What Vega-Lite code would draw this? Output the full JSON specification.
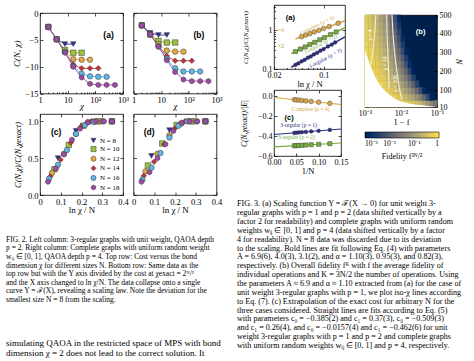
{
"$schema": "https://vega.github.io/schema/vega-lite/v6.json",
"background": "white",
"padding": {"left": 6, "top": 4, "right": 0, "bottom": 0},
"config": {
  "font": "Liberation Serif",
  "view": {"stroke": "#000", "strokeWidth": 0.8},
  "axis": {"domain": false, "grid": false, "tickSize": -3, "tickColor": "#000", "tickWidth": 0.7, "labelPadding": 5, "labelFont": "Liberation Serif", "labelFontSize": 8.5, "labelColor": "#000", "labelFlush": false, "labelOverlap": false, "titleFont": "Liberation Serif", "titleFontSize": 9, "titleFontWeight": "normal", "titleColor": "#000", "titlePadding": 0},
  "text": {"font": "Liberation Serif"}
},
"datasets": {
  "f2": [
    {"N":8,"chi":2,"Ca":-2.6,"Cb":-2.3,"X":0.0866,"Yc":0.50,"Yd":0.53},
    {"N":8,"chi":4,"Ca":-4.9,"Cb":-3.7,"X":0.1733,"Yc":0.87,"Yd":0.88},
    {"N":8,"chi":8,"Ca":-5.8,"Cb":-4.1,"X":0.2599,"Yc":1.0,"Yd":1.0},
    {"N":8,"chi":16,"Ca":-5.8,"Cb":-4.1,"X":0.3466,"Yc":1.0,"Yd":1.0},
    {"N":10,"chi":2,"Ca":-2.6,"Cb":-2.3,"X":0.0693,"Yc":0.35,"Yd":0.40},
    {"N":10,"chi":4,"Ca":-4.9,"Cb":-4.0,"X":0.1386,"Yc":0.68,"Yd":0.70},
    {"N":10,"chi":8,"Ca":-6.9,"Cb":-5.2,"X":0.2079,"Yc":0.94,"Yd":0.95},
    {"N":10,"chi":16,"Ca":-7.4,"Cb":-5.5,"X":0.2773,"Yc":1.0,"Yd":1.0},
    {"N":10,"chi":32,"Ca":-7.4,"Cb":-5.5,"X":0.3466,"Yc":1.0,"Yd":1.0},
    {"N":12,"chi":2,"Ca":-2.6,"Cb":-2.3,"X":0.0578,"Yc":0.30,"Yd":0.32},
    {"N":12,"chi":4,"Ca":-4.9,"Cb":-4.0,"X":0.1155,"Yc":0.56,"Yd":0.56},
    {"N":12,"chi":8,"Ca":-7.2,"Cb":-5.8,"X":0.1733,"Yc":0.83,"Yd":0.81},
    {"N":12,"chi":16,"Ca":-8.6,"Cb":-7.0,"X":0.2310,"Yc":0.99,"Yd":0.97},
    {"N":12,"chi":32,"Ca":-8.7,"Cb":-7.2,"X":0.2888,"Yc":1.0,"Yd":1.0},
    {"N":12,"chi":64,"Ca":-8.7,"Cb":-7.2,"X":0.3466,"Yc":1.0,"Yd":1.0},
    {"N":14,"chi":2,"Ca":-2.6,"Cb":-2.3,"X":0.0495,"Yc":0.25,"Yd":0.26},
    {"N":14,"chi":4,"Ca":-4.9,"Cb":-4.0,"X":0.0990,"Yc":0.48,"Yd":0.45},
    {"N":14,"chi":8,"Ca":-7.3,"Cb":-6.1,"X":0.1485,"Yc":0.71,"Yd":0.69},
    {"N":14,"chi":16,"Ca":-9.6,"Cb":-8.0,"X":0.1980,"Yc":0.93,"Yd":0.90},
    {"N":14,"chi":32,"Ca":-10.3,"Cb":-8.9,"X":0.2476,"Yc":1.0,"Yd":1.0},
    {"N":14,"chi":64,"Ca":-10.3,"Cb":-8.9,"X":0.2971,"Yc":1.0,"Yd":1.0},
    {"N":14,"chi":128,"Ca":-10.3,"Cb":-8.9,"X":0.3466,"Yc":1.0,"Yd":1.0},
    {"N":16,"chi":2,"Ca":-2.6,"Cb":-2.3,"X":0.0433,"Yc":0.22,"Yd":0.21},
    {"N":16,"chi":4,"Ca":-4.9,"Cb":-4.0,"X":0.0866,"Yc":0.41,"Yd":0.37},
    {"N":16,"chi":8,"Ca":-7.3,"Cb":-6.2,"X":0.1300,"Yc":0.61,"Yd":0.57},
    {"N":16,"chi":16,"Ca":-9.9,"Cb":-8.5,"X":0.1733,"Yc":0.83,"Yd":0.78},
    {"N":16,"chi":32,"Ca":-11.3,"Cb":-10.3,"X":0.2166,"Yc":0.95,"Yd":0.94},
    {"N":16,"chi":64,"Ca":-11.8,"Cb":-10.9,"X":0.2599,"Yc":0.99,"Yd":1.0},
    {"N":16,"chi":128,"Ca":-11.9,"Cb":-10.9,"X":0.3033,"Yc":1.0,"Yd":1.0},
    {"N":16,"chi":256,"Ca":-11.9,"Cb":-10.9,"X":0.3466,"Yc":1.0,"Yd":1.0},
    {"N":18,"chi":2,"Ca":-2.6,"Cb":-2.3,"X":0.0385,"Yc":0.18,"Yd":0.18},
    {"N":18,"chi":4,"Ca":-4.9,"Cb":-4.0,"X":0.0770,"Yc":0.36,"Yd":0.31},
    {"N":18,"chi":8,"Ca":-7.4,"Cb":-6.3,"X":0.1155,"Yc":0.55,"Yd":0.50},
    {"N":18,"chi":16,"Ca":-10.0,"Cb":-8.8,"X":0.1540,"Yc":0.75,"Yd":0.69},
    {"N":18,"chi":32,"Ca":-12.0,"Cb":-11.0,"X":0.1925,"Yc":0.90,"Yd":0.87},
    {"N":18,"chi":64,"Ca":-13.2,"Cb":-12.4,"X":0.2310,"Yc":0.985,"Yd":0.98},
    {"N":18,"chi":128,"Ca":-13.4,"Cb":-12.7,"X":0.2695,"Yc":1.0,"Yd":1.0},
    {"N":18,"chi":256,"Ca":-13.4,"Cb":-12.7,"X":0.3081,"Yc":1.0,"Yd":1.0},
    {"N":18,"chi":512,"Ca":-13.4,"Cb":-12.7,"X":0.3466,"Yc":1.0,"Yd":1.0}
  ],
  "f3a": [
    {"s":"p1","X":0.040,"Y":0.128},{"s":"p1","X":0.044,"Y":0.139},{"s":"p1","X":0.049,"Y":0.158},{"s":"p1","X":0.054,"Y":0.172},{"s":"p1","X":0.060,"Y":0.195},{"s":"p1","X":0.066,"Y":0.211},{"s":"p1","X":0.073,"Y":0.238},{"s":"p1","X":0.081,"Y":0.260},{"s":"p1","X":0.090,"Y":0.296},{"s":"p1","X":0.100,"Y":0.324},{"s":"p1","X":0.115,"Y":0.380},{"s":"p1","X":0.130,"Y":0.424},{"s":"p1","X":0.145,"Y":0.480},
    {"s":"p2","X":0.040,"Y":0.280},{"s":"p2","X":0.047,"Y":0.325},{"s":"p2","X":0.055,"Y":0.368},{"s":"p2","X":0.064,"Y":0.426},{"s":"p2","X":0.075,"Y":0.485},{"s":"p2","X":0.088,"Y":0.563},{"s":"p2","X":0.103,"Y":0.640},{"s":"p2","X":0.125,"Y":0.766},{"s":"p2","X":0.150,"Y":0.893},
    {"s":"c4","X":0.049,"Y":0.678},{"s":"c4","X":0.056,"Y":0.745},{"s":"c4","X":0.064,"Y":0.808},{"s":"c4","X":0.074,"Y":0.896},{"s":"c4","X":0.086,"Y":0.985},{"s":"c4","X":0.100,"Y":1.096},{"s":"c4","X":0.120,"Y":1.232},{"s":"c4","X":0.160,"Y":1.50}
  ],
  "f3aFit": [
    {"s":"p1","X":0.035,"Y":0.111},{"s":"p1","X":0.2,"Y":0.667},
    {"s":"p2","X":0.035,"Y":0.249},{"s":"p2","X":0.2,"Y":1.15},
    {"s":"c4","X":0.04,"Y":0.59},{"s":"c4","X":0.2,"Y":1.74}
  ],
  "f3aLab": [
    {"s":"c4","X":0.08,"Y":1.35,"t":"Complete (p = 4)"},
    {"s":"p2","X":0.09,"Y":0.44,"t":"3-regular (p = 2)"},
    {"s":"p1","X":0.105,"Y":0.19,"t":"3-regular (p = 1)"}
  ],
  "f3aShift": [
    {"s":"c4","X":0.025,"Y":1.0,"t":"×4"},
    {"s":"p2","X":0.025,"Y":0.40,"t":"×2"}
  ],
  "f3c": [
    {"s":"c4","X":0.0455,"Y":-0.037},{"s":"c4","X":0.05,"Y":-0.039},{"s":"c4","X":0.0556,"Y":-0.041},{"s":"c4","X":0.0625,"Y":-0.045},{"s":"c4","X":0.0714,"Y":-0.049},{"s":"c4","X":0.0833,"Y":-0.054},{"s":"c4","X":0.1,"Y":-0.062},{"s":"c4","X":0.125,"Y":-0.074},
    {"s":"p1","X":0.0455,"Y":-0.368},{"s":"p1","X":0.05,"Y":-0.367},{"s":"p1","X":0.0556,"Y":-0.364},{"s":"p1","X":0.0625,"Y":-0.362},{"s":"p1","X":0.0714,"Y":-0.359},{"s":"p1","X":0.0833,"Y":-0.354},{"s":"p1","X":0.1,"Y":-0.348},{"s":"p1","X":0.125,"Y":-0.339},
    {"s":"p2","X":0.0455,"Y":-0.497},{"s":"p2","X":0.05,"Y":-0.496},{"s":"p2","X":0.0556,"Y":-0.495},{"s":"p2","X":0.0625,"Y":-0.493},{"s":"p2","X":0.0714,"Y":-0.490},{"s":"p2","X":0.0833,"Y":-0.487},{"s":"p2","X":0.1,"Y":-0.483},{"s":"p2","X":0.125,"Y":-0.477}
  ],
  "f3cFit": [
    {"s":"c4","X":0,"Y":-0.0157},{"s":"c4","X":0.15,"Y":-0.085},
    {"s":"p1","X":0,"Y":-0.385},{"s":"p1","X":0.15,"Y":-0.3295},
    {"s":"p2","X":0,"Y":-0.509},{"s":"p2","X":0.15,"Y":-0.470}
  ],
  "f3cLab": [
    {"s":"c4","X":0.082,"Y":-0.13,"t":"Complete (p = 4)"},
    {"s":"p1","X":0.055,"Y":-0.29,"t":"3-regular (p = 1)"},
    {"s":"p2","X":0.05,"Y":-0.41,"t":"3-regular (p = 2)"}
  ],
  "f3bgrid": [
    {"n":27.5,"e":[0.00112,0.00141,0.00178,0.00224,0.00282,0.00355,0.00447,0.00562,0.00708,0.00891,0.0112,0.0141,0.0178,0.0224,0.0282,0.0355,0.0447,0.0562,0.0708,0.0891],"v":[-0.02,-0.03,-0.03,-0.04,-0.05,-0.06,-0.08,-0.10,-0.13,-0.16,-0.20,-0.25,-0.32,-0.40,-0.50,-0.64,-0.80,-1.01,-1.27,-1.60]},
    {"n":62.5,"e":[0.00112,0.00141,0.00178,0.00224,0.00282,0.00355,0.00447,0.00562,0.00708,0.00891,0.0112,0.0141,0.0178,0.0224,0.0282,0.0355,0.0447,0.0562,0.0708],"v":[-0.05,-0.06,-0.07,-0.09,-0.11,-0.14,-0.18,-0.23,-0.29,-0.36,-0.46,-0.58,-0.72,-0.91,-1.15,-1.44,-1.82,-2.29,-2.88]},
    {"n":97.5,"e":[0.00112,0.00141,0.00178,0.00224,0.00282,0.00355,0.00447,0.00562,0.00708,0.00891,0.0112,0.0141,0.0178,0.0224,0.0282,0.0355,0.0447],"v":[-0.07,-0.09,-0.11,-0.14,-0.18,-0.23,-0.28,-0.36,-0.45,-0.57,-0.71,-0.90,-1.13,-1.42,-1.79,-2.25,-2.84]},
    {"n":132.5,"e":[0.00112,0.00141,0.00178,0.00224,0.00282,0.00355,0.00447,0.00562,0.00708,0.00891,0.0112,0.0141,0.0178,0.0224,0.0282],"v":[-0.10,-0.12,-0.15,-0.19,-0.24,-0.31,-0.39,-0.49,-0.61,-0.77,-0.97,-1.22,-1.53,-1.93,-2.43]},
    {"n":167.5,"e":[0.00112,0.00141,0.00178,0.00224,0.00282,0.00355,0.00447,0.00562,0.00708,0.00891,0.0112,0.0141,0.0178,0.0224],"v":[-0.12,-0.15,-0.19,-0.24,-0.31,-0.39,-0.49,-0.61,-0.77,-0.97,-1.22,-1.54,-1.94,-2.44]},
    {"n":202.5,"e":[0.00112,0.00141,0.00178,0.00224,0.00282,0.00355,0.00447,0.00562,0.00708,0.00891,0.0112,0.0141,0.0178,0.0224],"v":[-0.15,-0.19,-0.23,-0.30,-0.37,-0.47,-0.59,-0.74,-0.93,-1.18,-1.48,-1.86,-2.35,-2.95]},
    {"n":237.5,"e":[0.00112,0.00141,0.00178,0.00224,0.00282,0.00355,0.00447,0.00562,0.00708,0.00891,0.0112,0.0141,0.0178],"v":[-0.17,-0.22,-0.28,-0.35,-0.44,-0.55,-0.69,-0.87,-1.10,-1.38,-1.74,-2.19,-2.75]},
    {"n":272.5,"e":[0.00112,0.00141,0.00178,0.00224,0.00282,0.00355,0.00447,0.00562,0.00708,0.00891,0.0112,0.0141],"v":[-0.20,-0.25,-0.32,-0.40,-0.50,-0.63,-0.79,-1.00,-1.26,-1.58,-1.99,-2.51]},
    {"n":307.5,"e":[0.00112,0.00141,0.00178,0.00224,0.00282,0.00355,0.00447,0.00562,0.00708,0.00891,0.0112,0.0141],"v":[-0.22,-0.28,-0.36,-0.45,-0.56,-0.71,-0.89,-1.13,-1.42,-1.79,-2.25,-2.83]},
    {"n":342.5,"e":[0.00112,0.00141,0.00178,0.00224,0.00282,0.00355,0.00447,0.00562,0.00708,0.00891,0.0112],"v":[-0.25,-0.32,-0.40,-0.50,-0.63,-0.79,-1.00,-1.25,-1.58,-1.99,-2.50]},
    {"n":377.5,"e":[0.00112,0.00141,0.00178,0.00224,0.00282,0.00355,0.00447,0.00562,0.00708,0.00891,0.0112],"v":[-0.28,-0.35,-0.44,-0.55,-0.69,-0.87,-1.10,-1.38,-1.74,-2.19,-2.76]},
    {"n":412.5,"e":[0.00112,0.00141,0.00178,0.00224,0.00282,0.00355,0.00447,0.00562,0.00708,0.00891],"v":[-0.30,-0.38,-0.48,-0.60,-0.76,-0.95,-1.20,-1.51,-1.90,-2.40]},
    {"n":447.5,"e":[0.00112,0.00141,0.00178,0.00224,0.00282,0.00355,0.00447,0.00562,0.00708,0.00891],"v":[-0.33,-0.41,-0.52,-0.65,-0.82,-1.03,-1.30,-1.64,-2.06,-2.60]},
    {"n":482.5,"e":[0.00112,0.00141,0.00178,0.00224,0.00282,0.00355,0.00447,0.00562,0.00708,0.00891],"v":[-0.35,-0.44,-0.56,-0.70,-0.89,-1.12,-1.40,-1.77,-2.22,-2.80]}
  ],
  "f3bw": [
    {"e":0.001,"N":313},{"e":0.0013,"N":250},{"e":0.0016,"N":205},{"e":0.002,"N":165},{"e":0.0029,"N":117},{"e":0.004,"N":88},{"e":0.006,"N":62},{"e":0.0085,"N":45},{"e":0.012,"N":35},{"e":0.018,"N":27},{"e":0.027,"N":22},{"e":0.038,"N":19},{"e":0.055,"N":15},{"e":0.075,"N":12},{"e":0.1,"N":10}
  ],
  "f3bl": [
    {"chi":"4","e":0.0015,"N":235},{"chi":"4","e":0.0017,"N":330},{"chi":"4","e":0.0019,"N":420},{"chi":"4","e":0.002,"N":500},
    {"chi":"10","e":0.004,"N":500},{"chi":"10","e":0.0041,"N":400},{"chi":"10","e":0.0043,"N":300},{"chi":"10","e":0.0045,"N":200},{"chi":"10","e":0.0047,"N":110},
    {"chi":"100","e":0.0056,"N":500},{"chi":"100","e":0.006,"N":400},{"chi":"100","e":0.0066,"N":300},{"chi":"100","e":0.0077,"N":200},{"chi":"100","e":0.0092,"N":100},{"chi":"100","e":0.0106,"N":50}
  ],
  "f3blab": [
    {"t":"χ = 4","e":0.00138,"N":393},{"t":"χ = 10","e":0.0035,"N":242},{"t":"χ = 100","e":0.0069,"N":135}
  ],
  "cap2": [
    {"line":0,"kind":"c","t":"FIG. 2. Left column: 3-regular graphs with unit weight, QAOA depth"},
    {"line":1,"kind":"c","t":"p = 2. Right column: Complete graphs with uniform random weight"},
    {"line":2,"kind":"c","t":"wᵢⱼ ∈ [0, 1], QAOA depth p = 4. Top row: Cost versus the bond"},
    {"line":3,"kind":"c","t":"dimension χ for different sizes N. Bottom row: Same data as the"},
    {"line":4,"kind":"c","t":"top row but with the Y axis divided by the cost at χexact = 2ᴺ/²"},
    {"line":5,"kind":"c","t":"and the X axis changed to ln χ/N. The data collapse onto a single"},
    {"line":6,"kind":"c","t":"curve Y = ℱ(X), revealing a scaling law. Note the deviation for the"},
    {"line":7,"kind":"c","t":"smallest size N = 8 from the scaling."},
    {"line":12,"kind":"b","t":"simulating QAOA in the restricted space of MPS with bond"},
    {"line":13.15,"kind":"b","t":"dimension χ = 2 does not lead to the correct solution.  It"}
  ],
  "cap3": [
    {"line":0,"t":"FIG. 3.  (a) Scaling function Y = ℱ(X → 0) for unit weight 3-"},
    {"line":1,"t":"regular graphs with p = 1 and p = 2 (data shifted vertically by a"},
    {"line":2,"t":"factor 2 for readability) and complete graphs with uniform random"},
    {"line":3,"t":"weights wᵢⱼ ∈ [0, 1] and p = 4 (data shifted vertically by a factor"},
    {"line":4,"t":"4 for readability).  N = 8 data was discarded due to its deviation"},
    {"line":5,"t":"to the scaling.  Bold lines are fit following Eq. (4) with parameters"},
    {"line":6,"t":"A = 6.9(6), 4.0(3), 3.1(2), and α = 1.10(3), 0.95(3), and 0.82(3),"},
    {"line":7,"t":"respectively.  (b) Overall fidelity fᴷ with f the average fidelity of"},
    {"line":8,"t":"individual operations and K = 3N/2 the number of operations.  Using"},
    {"line":9,"t":"the parameters A ≈ 6.9 and α ≈ 1.10 extracted from (a) for the case of"},
    {"line":10,"t":"unit weight 3-regular graphs with p = 1, we plot iso-χ lines according"},
    {"line":11,"t":"to Eq. (7).  (c) Extrapolation of the exact cost for arbitrary N for the"},
    {"line":12,"t":"three cases considered.  Straight lines are fits according to Eq. (5)"},
    {"line":13,"t":"with parameters c₀ = −0.385(2) and c₁ = 0.37(3), c₀ = −0.509(3)"},
    {"line":14,"t":"and c₁ = 0.26(4), and c₀ = −0.0157(4) and c₁ = −0.462(6) for unit"},
    {"line":15,"t":"weight 3-regular graphs with p = 1 and p = 2 and complete graphs"},
    {"line":16,"t":"with uniform random weights wᵢⱼ ∈ [0, 1] and p = 4, respectively."}
  ]
},
"resolve": {"scale": {"color": "independent", "shape": "independent"}, "legend": {"color": "independent", "shape": "independent"}},
"spacing": 12,
"hconcat": [
 {
  "resolve": {"scale": {"color": "independent", "shape": "independent"}, "legend": {"color": "independent", "shape": "independent"}},
  "spacing": 20.7,
  "vconcat": [
   {
    "spacing": 2,
    "resolve": {"scale": {"color": "independent", "shape": "independent"}, "legend": {"color": "independent", "shape": "independent"}},
    "vconcat": [
     {"width": 1, "height": 1, "view": {"stroke": null}, "data": {"values": []}, "mark": "text"},
     {
      "spacing": 2,
      "resolve": {"scale": {"color": "independent", "shape": "independent"}, "legend": {"color": "independent", "shape": "independent"}},
      "vconcat": [
       {
        "spacing": 1.5,
        "resolve": {"scale": {"color": "independent", "shape": "independent"}, "legend": {"color": "independent", "shape": "independent"}},
        "hconcat": [
         {
          "width": 83, "height": 80.5,
          "data": {"name": "f2"},
          "resolve": {"axis": {"x": "independent", "y": "independent"}},
          "layer": [
           {"mark": {"type": "line", "strokeWidth": 0.9},
            "encoding": {
             "x": {"field": "chi", "type": "quantitative", "scale": {"type": "log", "domain": [1, 1000], "nice": false}, "axis": {"orient": "bottom", "values": [1, 10, 100, 1000], "labelExpr": "datum.value == 1 ? '1' : datum.value == 10 ? '10' : datum.value == 100 ? '10²' : '10³'", "title": "χ", "titleFontStyle": "italic", "titlePadding": -3}},
             "y": {"field": "Ca", "type": "quantitative", "scale": {"domain": [-15, 0], "nice": false, "zero": false}, "axis": {"orient": "left", "values": [0, -5, -10, -15], "title": "C(N, χ)", "titleFontStyle": "italic", "titlePadding": 3}},
             "color": {"field": "N", "type": "nominal", "scale": {"domain": [8, 10, 12, 14, 16, 18], "range": ["#2f3192", "#9dc23c", "#e2a94a", "#c7303c", "#5fb7e8", "#a04aa5"]}, "legend": null}}},
           {"mark": {"type": "point", "filled": true, "size": 30, "stroke": "#333", "strokeWidth": 0.5, "opacity": 1},
            "encoding": {
             "x": {"field": "chi", "type": "quantitative", "axis": {"orient": "bottom", "values": [2,3,4,5,6,7,8,9,20,30,40,50,60,70,80,90,200,300,400,500,600,700,800,900], "labels": false, "tickSize": -1.5, "title": null}},
             "y": {"field": "Ca", "type": "quantitative", "axis": null},
             "color": {"field": "N", "type": "nominal", "scale": {"domain": [8, 10, 12, 14, 16, 18], "range": ["#2f3192", "#9dc23c", "#e2a94a", "#c7303c", "#5fb7e8", "#a04aa5"]}, "legend": null},
             "shape": {"field": "N", "type": "nominal", "scale": {"domain": [8, 10, 12, 14, 16, 18], "range": ["triangle-down", "square", "circle", "diamond", "circle", "M0,-1L0.866,-0.5L0.866,0.5L0,1L-0.866,0.5L-0.866,-0.5Z"]}, "legend": null}}},
           {"data": {"values": [{"t": "(a)"}]},
            "mark": {"type": "text", "font": "Liberation Sans", "fontWeight": "bold", "fontSize": 8.5},
            "encoding": {
             "x": {"datum": 300, "axis": {"orient": "top", "values": [1, 10, 100, 1000], "labels": false, "title": null}},
             "y": {"datum": -4.1, "axis": {"orient": "right", "values": [0, -5, -10, -15], "labels": false, "title": null}},
             "text": {"field": "t"}}}
          ]
         },
         {
          "width": 83, "height": 80.5,
          "data": {"name": "f2"},
          "resolve": {"axis": {"x": "independent", "y": "independent"}},
          "layer": [
           {"mark": {"type": "line", "strokeWidth": 0.9},
            "encoding": {
             "x": {"field": "chi", "type": "quantitative", "scale": {"type": "log", "domain": [1, 1000], "nice": false}, "axis": {"orient": "bottom", "values": [1, 10, 100, 1000], "labelExpr": "datum.value == 1 ? '1' : datum.value == 10 ? '10' : datum.value == 100 ? '10²' : '10³'", "title": "χ", "titleFontStyle": "italic", "titlePadding": -3}},
             "y": {"field": "Cb", "type": "quantitative", "scale": {"domain": [-15, 0], "nice": false, "zero": false}, "axis": {"orient": "left", "values": [0, -5, -10, -15], "labels": false, "title": null}},
             "color": {"field": "N", "type": "nominal", "scale": {"domain": [8, 10, 12, 14, 16, 18], "range": ["#2f3192", "#9dc23c", "#e2a94a", "#c7303c", "#5fb7e8", "#a04aa5"]}, "legend": null}}},
           {"mark": {"type": "point", "filled": true, "size": 30, "stroke": "#333", "strokeWidth": 0.5, "opacity": 1},
            "encoding": {
             "x": {"field": "chi", "type": "quantitative", "axis": {"orient": "bottom", "values": [2,3,4,5,6,7,8,9,20,30,40,50,60,70,80,90,200,300,400,500,600,700,800,900], "labels": false, "tickSize": -1.5, "title": null}},
             "y": {"field": "Cb", "type": "quantitative", "axis": null},
             "color": {"field": "N", "type": "nominal", "scale": {"domain": [8, 10, 12, 14, 16, 18], "range": ["#2f3192", "#9dc23c", "#e2a94a", "#c7303c", "#5fb7e8", "#a04aa5"]}, "legend": null},
             "shape": {"field": "N", "type": "nominal", "scale": {"domain": [8, 10, 12, 14, 16, 18], "range": ["triangle-down", "square", "circle", "diamond", "circle", "M0,-1L0.866,-0.5L0.866,0.5L0,1L-0.866,0.5L-0.866,-0.5Z"]}, "legend": null}}},
           {"data": {"values": [{"t": "(b)"}]},
            "mark": {"type": "text", "font": "Liberation Sans", "fontWeight": "bold", "fontSize": 8.5},
            "encoding": {
             "x": {"datum": 230, "axis": {"orient": "top", "values": [1, 10, 100, 1000], "labels": false, "title": null}},
             "y": {"datum": -4.1, "axis": {"orient": "right", "values": [0, -5, -10, -15], "labels": false, "title": null}},
             "text": {"field": "t"}}}
          ]
         }
        ]
       },
       {
        "spacing": 1.5,
        "resolve": {"scale": {"color": "independent", "shape": "independent"}, "legend": {"color": "independent", "shape": "independent"}},
        "hconcat": [
         {
          "width": 83, "height": 81,
          "data": {"name": "f2"},
          "resolve": {"axis": {"x": "independent", "y": "independent"}},
          "layer": [
           {"mark": {"type": "point", "filled": true, "size": 30, "stroke": "#333", "strokeWidth": 0.5, "opacity": 1},
            "encoding": {
             "x": {"field": "X", "type": "quantitative", "scale": {"domain": [0, 0.4], "nice": false, "zero": false}, "axis": {"orient": "bottom", "values": [0, 0.1, 0.2, 0.3, 0.4], "labelExpr": "datum.value == 0 ? '0' : format(datum.value, '.1f')", "title": "ln χ / N"}},
             "y": {"field": "Yc", "type": "quantitative", "scale": {"domain": [0, 1.1], "nice": false, "zero": false}, "axis": {"orient": "left", "values": [0, 0.5, 1], "format": ".1f", "title": "C(N,χ)/C(N,χexact)", "titleFontStyle": "italic", "titleFontSize": 8.5, "titlePadding": 5}},
             "color": {"field": "N", "type": "nominal", "scale": {"domain": [8, 10, 12, 14, 16, 18], "range": ["#2f3192", "#9dc23c", "#e2a94a", "#c7303c", "#5fb7e8", "#a04aa5"]}, "legend": {"orient": "bottom-right", "title": null, "labelExpr": "'N = ' + datum.label", "labelFontSize": 7, "labelFont": "Liberation Serif", "symbolSize": 26, "rowPadding": 0.6, "offset": 3, "padding": 0, "symbolStrokeColor": "#333", "symbolStrokeWidth": 0.5, "labelOffset": 3}},
             "shape": {"field": "N", "type": "nominal", "scale": {"domain": [8, 10, 12, 14, 16, 18], "range": ["triangle-down", "square", "circle", "diamond", "circle", "M0,-1L0.866,-0.5L0.866,0.5L0,1L-0.866,0.5L-0.866,-0.5Z"]}, "legend": {"orient": "bottom-right", "title": null, "labelExpr": "'N = ' + datum.label", "labelFontSize": 7, "labelFont": "Liberation Serif", "symbolSize": 26, "rowPadding": 0.6, "offset": 3, "padding": 0, "symbolStrokeColor": "#333", "symbolStrokeWidth": 0.5, "labelOffset": 3}}}},
           {"data": {"values": [{"t": "(c)"}]},
            "mark": {"type": "text", "font": "Liberation Sans", "fontWeight": "bold", "fontSize": 8.5},
            "encoding": {
             "x": {"datum": 0.078, "axis": {"orient": "top", "values": [0, 0.1, 0.2, 0.3, 0.4], "labels": false, "title": null}},
             "y": {"datum": 0.86, "axis": {"orient": "right", "values": [0, 0.5, 1], "labels": false, "title": null}},
             "text": {"field": "t"}}}
          ]
         },
         {
          "width": 83, "height": 81,
          "data": {"name": "f2"},
          "resolve": {"axis": {"x": "independent", "y": "independent"}},
          "layer": [
           {"mark": {"type": "point", "filled": true, "size": 30, "stroke": "#333", "strokeWidth": 0.5, "opacity": 1},
            "encoding": {
             "x": {"field": "X", "type": "quantitative", "scale": {"domain": [0, 0.4], "nice": false, "zero": false}, "axis": {"orient": "bottom", "values": [0, 0.1, 0.2, 0.3, 0.4], "labelExpr": "datum.value == 0 ? '0' : format(datum.value, '.1f')", "title": "ln χ / N"}},
             "y": {"field": "Yd", "type": "quantitative", "scale": {"domain": [0, 1.1], "nice": false, "zero": false}, "axis": {"orient": "left", "values": [0, 0.5, 1], "labels": false, "title": null}},
             "color": {"field": "N", "type": "nominal", "scale": {"domain": [8, 10, 12, 14, 16, 18], "range": ["#2f3192", "#9dc23c", "#e2a94a", "#c7303c", "#5fb7e8", "#a04aa5"]}, "legend": null},
             "shape": {"field": "N", "type": "nominal", "scale": {"domain": [8, 10, 12, 14, 16, 18], "range": ["triangle-down", "square", "circle", "diamond", "circle", "M0,-1L0.866,-0.5L0.866,0.5L0,1L-0.866,0.5L-0.866,-0.5Z"]}, "legend": null}}},
           {"data": {"values": [{"t": "(d)"}]},
            "mark": {"type": "text", "font": "Liberation Sans", "fontWeight": "bold", "fontSize": 8.5},
            "encoding": {
             "x": {"datum": 0.075, "axis": {"orient": "top", "values": [0, 0.1, 0.2, 0.3, 0.4], "labels": false, "title": null}},
             "y": {"datum": 0.86, "axis": {"orient": "right", "values": [0, 0.5, 1], "labels": false, "title": null}},
             "text": {"field": "t"}}}
          ]
         }
        ]
       }
      ]
     }
    ]
   },
   {
    "width": 185, "height": 113.1,
    "view": {"stroke": null},
    "data": {"name": "cap2"},
    "layer": [
     {"transform": [{"filter": "datum.kind == 'c'"}],
      "mark": {"type": "text", "align": "left", "baseline": "middle", "fontSize": 7.5, "font": "Liberation Serif"},
      "encoding": {
       "x": {"datum": 0, "scale": {"domain": [0, 1], "range": [-34, 151], "nice": false}, "axis": null},
       "y": {"field": "line", "type": "quantitative", "scale": {"domain": [0, 13.15], "nice": false, "zero": false, "reverse": true}, "axis": null},
       "text": {"field": "t"}}},
     {"transform": [{"filter": "datum.kind == 'b'"}],
      "mark": {"type": "text", "align": "left", "baseline": "middle", "fontSize": 9.0, "font": "Liberation Serif"},
      "encoding": {
       "x": {"datum": 0, "axis": null},
       "y": {"field": "line", "type": "quantitative", "axis": null},
       "text": {"field": "t"}}}
    ]
   }
  ]
 },
 {
  "resolve": {"scale": {"color": "independent", "shape": "independent"}, "legend": {"color": "independent", "shape": "independent"}},
  "spacing": 25.2,
  "vconcat": [
   {
    "spacing": 8,
    "resolve": {"scale": {"color": "independent", "shape": "independent"}, "legend": {"color": "independent", "shape": "independent"}},
    "hconcat": [
     {
      "spacing": 1,
      "resolve": {"scale": {"color": "independent", "shape": "independent"}, "legend": {"color": "independent", "shape": "independent"}},
      "vconcat": [
       {
        "width": 71, "height": 64,
        "resolve": {"axis": {"x": "independent", "y": "independent"}},
        "layer": [
         {"data": {"name": "f3aFit"}, "mark": {"type": "line", "strokeWidth": 1.5},
          "encoding": {
           "x": {"field": "X", "type": "quantitative", "scale": {"type": "log", "domain": [0.02, 0.2], "nice": false}, "axis": {"orient": "bottom", "values": [0.02, 0.1], "labelExpr": "datum.value < 0.05 ? '0.02' : '0.1'", "title": "ln χ / N", "labelFontSize": 8, "titleFontSize": 8.5}},
           "y": {"field": "Y", "type": "quantitative", "scale": {"type": "log", "domain": [0.1, 4.4], "nice": false}, "axis": {"orient": "left", "values": [0.1, 1], "labelExpr": "datum.value < 0.5 ? '0.1' : '1'", "title": "C(N,χ)/C(N,χexact)", "labelFontSize": 8, "titleFontSize": 6.8, "titleFontStyle": "italic", "titlePadding": 14}},
           "color": {"field": "s", "type": "nominal", "scale": {"domain": ["p1", "p2", "c4"], "range": ["#2b2c84", "#74ad3e", "#d6a64a"]}, "legend": null}}},
         {"data": {"name": "f3a"}, "mark": {"type": "point", "filled": true, "stroke": "#333", "strokeWidth": 0.4, "opacity": 1},
          "encoding": {
           "x": {"field": "X", "type": "quantitative", "axis": {"orient": "bottom", "values": [0.03, 0.04, 0.05, 0.06, 0.07, 0.08, 0.09, 0.2], "labels": false, "tickSize": -1.5, "title": null}},
           "y": {"field": "Y", "type": "quantitative", "axis": {"orient": "left", "values": [0.2, 0.3, 0.4, 0.5, 0.6, 0.7, 0.8, 0.9, 2, 3, 4], "labels": false, "tickSize": -1.5, "title": null}},
           "color": {"field": "s", "type": "nominal", "scale": {"domain": ["p1", "p2", "c4"], "range": ["#2b2c84", "#74ad3e", "#d6a64a"]}, "legend": null},
           "shape": {"field": "s", "type": "nominal", "scale": {"domain": ["p1", "p2", "c4"], "range": ["circle", "square", "circle"]}, "legend": null},
           "size": {"field": "s", "type": "nominal", "scale": {"domain": ["p1", "p2", "c4"], "range": [14, 22, 24]}, "legend": null}}},
         {"data": {"name": "f3aLab"}, "mark": {"type": "text", "fontSize": 5.5},
          "encoding": {
           "x": {"field": "X", "type": "quantitative", "axis": null},
           "y": {"field": "Y", "type": "quantitative", "axis": null},
           "text": {"field": "t"},
           "color": {"field": "s", "type": "nominal", "scale": {"domain": ["p1", "p2", "c4"], "range": ["#2b2c84", "#74ad3e", "#d6a64a"]}, "legend": null},
           "angle": {"field": "s", "type": "nominal", "scale": {"domain": ["p1", "p2", "c4"], "range": [332, 334, 340]}, "legend": null}}},
         {"data": {"name": "f3aShift"}, "mark": {"type": "text", "fontSize": 6},
          "encoding": {
           "x": {"field": "X", "type": "quantitative", "axis": null},
           "y": {"field": "Y", "type": "quantitative", "axis": null},
           "text": {"field": "t"},
           "color": {"field": "s", "type": "nominal", "scale": {"domain": ["p1", "p2", "c4"], "range": ["#2b2c84", "#74ad3e", "#d6a64a"]}, "legend": null}}},
         {"data": {"values": [{"t": "(a)"}]},
          "mark": {"type": "text", "font": "Liberation Sans", "fontWeight": "bold", "fontSize": 7.5},
          "encoding": {
           "x": {"datum": 0.034, "axis": {"orient": "top", "values": [0.02, 0.1], "labels": false, "title": null}},
           "y": {"datum": 2.0, "axis": {"orient": "right", "values": [0.1, 1], "labels": false, "title": null}},
           "text": {"field": "t"}}}
        ]
       },
       {
        "width": 67, "height": 66,
        "resolve": {"axis": {"x": "independent", "y": "independent"}},
        "layer": [
         {"data": {"name": "f3cFit"}, "mark": {"type": "line", "strokeWidth": 1.1},
          "encoding": {
           "x": {"field": "X", "type": "quantitative", "scale": {"domain": [0, 0.15], "nice": false, "zero": false}, "axis": {"orient": "bottom", "values": [0, 0.05, 0.1, 0.15], "format": ".2f", "title": "1/N", "labelFontSize": 8, "titleFontSize": 8.5}},
           "y": {"field": "Y", "type": "quantitative", "scale": {"domain": [-0.6, 0.06], "nice": false, "zero": false}, "axis": {"orient": "left", "values": [0, -0.2, -0.4, -0.6], "format": ".1f", "title": "C(N,χexact)/|E|", "labelFontSize": 8, "titleFontSize": 7.5, "titleFontStyle": "italic", "titlePadding": 9}},
           "color": {"field": "s", "type": "nominal", "scale": {"domain": ["p1", "p2", "c4"], "range": ["#2b2c84", "#74ad3e", "#d6a64a"]}, "legend": null}}},
         {"data": {"name": "f3c"}, "mark": {"type": "point", "filled": true, "stroke": "#333", "strokeWidth": 0.4, "opacity": 1},
          "encoding": {
           "x": {"field": "X", "type": "quantitative", "axis": null},
           "y": {"field": "Y", "type": "quantitative", "axis": null},
           "color": {"field": "s", "type": "nominal", "scale": {"domain": ["p1", "p2", "c4"], "range": ["#2b2c84", "#74ad3e", "#d6a64a"]}, "legend": null},
           "shape": {"field": "s", "type": "nominal", "scale": {"domain": ["p1", "p2", "c4"], "range": ["circle", "square", "circle"]}, "legend": null},
           "size": {"field": "s", "type": "nominal", "scale": {"domain": ["p1", "p2", "c4"], "range": [14, 22, 24]}, "legend": null}}},
         {"data": {"name": "f3cLab"}, "mark": {"type": "text", "fontSize": 5.5},
          "encoding": {
           "x": {"field": "X", "type": "quantitative", "axis": null},
           "y": {"field": "Y", "type": "quantitative", "axis": null},
           "text": {"field": "t"},
           "color": {"field": "s", "type": "nominal", "scale": {"domain": ["p1", "p2", "c4"], "range": ["#2b2c84", "#74ad3e", "#d6a64a"]}, "legend": null}}},
         {"data": {"values": [{"t": "(c)"}]},
          "mark": {"type": "text", "font": "Liberation Sans", "fontWeight": "bold", "fontSize": 7.5},
          "encoding": {
           "x": {"datum": 0.034, "axis": {"orient": "top", "values": [0, 0.05, 0.1, 0.15], "labels": false, "title": null}},
           "y": {"datum": -0.22, "axis": {"orient": "right", "values": [0, -0.2, -0.4, -0.6], "labels": false, "title": null}},
           "text": {"field": "t"}}}
        ]
       }
      ]
     },
     {
      "spacing": 4,
      "resolve": {"scale": {"color": "independent", "shape": "independent"}, "legend": {"color": "independent", "shape": "independent"}},
      "vconcat": [
       {"width": 1, "height": 1, "view": {"stroke": null}, "data": {"values": []}, "mark": "text"},
       {
        "width": 72, "height": 92,
        "view": {"fill": "#00204c", "stroke": "#000"},
        "resolve": {"scale": {"x": "independent", "y": "independent"}, "axis": {"x": "independent", "y": "independent"}},
        "layer": [
         {"data": {"name": "f3bgrid"},
          "transform": [{"flatten": ["e", "v"]}],
          "mark": {"type": "rect", "strokeWidth": 0.6},
          "encoding": {
           "x": {"field": "e", "type": "ordinal", "scale": {"domain": [0.00112,0.00141,0.00178,0.00224,0.00282,0.00355,0.00447,0.00562,0.00708,0.00891,0.0112,0.0141,0.0178,0.0224,0.0282,0.0355,0.0447,0.0562,0.0708,0.0891], "paddingInner": 0, "paddingOuter": 0}, "axis": null},
           "y": {"field": "n", "type": "ordinal", "scale": {"domain": [482.5,447.5,412.5,377.5,342.5,307.5,272.5,237.5,202.5,167.5,132.5,97.5,62.5,27.5], "paddingInner": 0, "paddingOuter": 0}, "axis": null},
           "color": {"field": "v", "type": "quantitative", "scale": {"scheme": "cividis", "domain": [-3, 0], "clamp": true}, "legend": {"orient": "bottom", "direction": "horizontal", "gradientLength": 74, "gradientThickness": 6, "title": "Fidelity f³ᴺ/²", "titleOrient": "bottom", "titleAnchor": "middle", "titleFont": "Liberation Serif", "titleFontWeight": "normal", "titleFontSize": 8, "titleColor": "#000", "labelFont": "Liberation Serif", "labelFontSize": 7.5, "labelColor": "#000", "values": [-3, -2, -1, 0], "labelExpr": "datum.value == 0 ? '1' : datum.value == -1 ? '10⁻¹' : datum.value == -2 ? '10⁻²' : '10⁻³'", "offset": 6, "padding": 0, "gradientStrokeColor": "#000", "gradientStrokeWidth": 0.6}},
           "stroke": {"field": "v", "type": "quantitative", "scale": {"scheme": "cividis", "domain": [-3, 0], "clamp": true}, "legend": null}}},
         {
          "resolve": {"axis": {"x": "independent", "y": "independent"}},
          "layer": [
           {"data": {"name": "f3bw"}, "mark": {"type": "area", "color": "white", "interpolate": "monotone"},
            "encoding": {
             "x": {"field": "e", "type": "quantitative", "scale": {"type": "log", "domain": [0.001, 0.1], "nice": false}, "axis": {"orient": "bottom", "values": [0.001, 0.01, 0.1], "labelExpr": "datum.value < 0.005 ? '10⁻³' : datum.value < 0.05 ? '10⁻²' : '10⁻¹'", "title": "1 − f", "labelFontSize": 8, "titleFontSize": 8.5}},
             "y": {"field": "N", "type": "quantitative", "scale": {"domain": [10, 500], "nice": false, "zero": false}, "axis": {"orient": "right", "values": [10, 100, 200, 300, 400, 500], "title": "N", "titleFontStyle": "italic", "labelFontSize": 8, "titleFontSize": 8.5, "titlePadding": 2}},
             "y2": {"datum": 10}}},
           {"data": {"name": "f3bl"}, "mark": {"type": "line", "color": "#f4efd8", "strokeWidth": 1.1, "interpolate": "monotone"},
            "encoding": {
             "x": {"field": "e", "type": "quantitative", "axis": {"orient": "bottom", "values": [0.002,0.003,0.004,0.005,0.006,0.007,0.008,0.009,0.02,0.03,0.04,0.05,0.06,0.07,0.08,0.09], "labels": false, "tickSize": -1.5, "title": null}},
             "y": {"field": "N", "type": "quantitative", "axis": null},
             "detail": {"field": "chi"}}},
           {"data": {"name": "f3blab"}, "mark": {"type": "text", "color": "white", "angle": 270, "fontSize": 5.5},
            "encoding": {
             "x": {"field": "e", "type": "quantitative", "axis": {"orient": "top", "values": [0.001, 0.01, 0.1], "labels": false, "title": null}},
             "y": {"field": "N", "type": "quantitative", "axis": {"orient": "left", "values": [10, 100, 200, 300, 400, 500], "labels": false, "title": null}},
             "text": {"field": "t"}}},
           {"data": {"values": [{"t": "(b)"}]},
            "mark": {"type": "text", "color": "white", "font": "Liberation Sans", "fontWeight": "bold", "fontSize": 7.5},
            "encoding": {
             "x": {"datum": 0.035, "axis": null},
             "y": {"datum": 410, "axis": null},
             "text": {"field": "t"}}}
          ]
         }
        ]
       }
      ]
     }
    ]
   },
   {
    "width": 190, "height": 141.8,
    "view": {"stroke": null},
    "data": {"name": "cap3"},
    "mark": {"type": "text", "align": "left", "baseline": "middle", "fontSize": 8.1, "font": "Liberation Serif"},
    "encoding": {
     "x": {"datum": 0, "scale": {"domain": [0, 1], "range": [-37, 153], "nice": false}, "axis": null},
     "y": {"field": "line", "type": "quantitative", "scale": {"domain": [0, 16], "nice": false, "zero": false, "reverse": true}, "axis": null},
     "text": {"field": "t"}}
   }
  ]
 }
]
}
